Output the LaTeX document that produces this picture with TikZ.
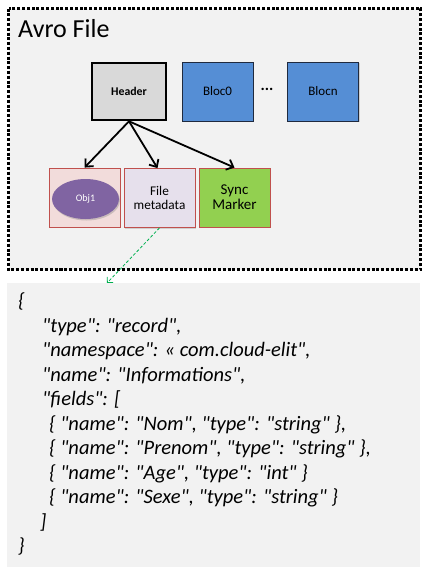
\documentclass[tikz,border=0pt]{standalone}
\usepackage{fontspec}
\setmainfont{Carlito}
\newfontfamily\jsonfont{Carlito}
\usetikzlibrary{arrows.meta,shadows,calc,shapes.geometric}
\definecolor{panel}{HTML}{F2F2F2}
\definecolor{hdrfill}{HTML}{D9D9D9}
\definecolor{blocfill}{HTML}{558ED5}
\definecolor{blocline}{HTML}{1F2A3F}
\definecolor{boxred}{HTML}{C0504D}
\definecolor{objfill}{HTML}{F2DCDB}
\definecolor{metafill}{HTML}{E6E0EC}
\definecolor{syncfill}{HTML}{92D050}
\definecolor{ellfill}{HTML}{8064A2}
\definecolor{arrgreen}{HTML}{00B050}
\tikzset{
  px/.style={x=1pt,y=-1pt},
  hdrbox/.style={draw=black,line width=2.6pt,fill=hdrfill,minimum width=74pt,minimum height=57pt,inner sep=0pt,font=\fontsize{11.8}{13}\selectfont\bfseries},
  blocbox/.style={draw=blocline,line width=0.8pt,fill=blocfill,minimum width=71pt,minimum height=59pt,inner sep=0pt,font=\fontsize{13}{14}\selectfont,drop shadow={shadow xshift=1pt,shadow yshift=-1pt,opacity=0.3}},
  subbox/.style={draw=boxred,line width=0.8pt,minimum width=71pt,minimum height=59pt,inner sep=0pt,align=center,drop shadow={shadow xshift=1pt,shadow yshift=-1pt,opacity=0.3}},
  objell/.style={ellipse,fill=ellfill,minimum width=67pt,minimum height=40pt,inner sep=0pt,text=white,font=\fontsize{10}{12}\selectfont,drop shadow={shadow xshift=1pt,shadow yshift=-1.5pt,opacity=0.35}},
  hdrarrow/.style={draw=black,line width=1.8pt,-{Straight Barb[length=6pt,width=11pt,line width=1.8pt]}},
  greenarrow/.style={draw=arrgreen,line width=0.8pt,dash pattern=on 3pt off 2pt,-{Straight Barb[length=4pt,width=8pt]}},
  outerbox/.style={draw=black,line width=3pt,dash pattern=on 3pt off 1.8pt,fill=panel},
  jsonbox/.style={fill=panel,minimum width=413pt,minimum height=284pt,inner sep=0pt},
  jsontext/.style={anchor=base west,align=left,inner sep=0pt,font=\jsonfont\fontsize{20.5}{24.5}\selectfont\itshape},
}
\begin{document}
\begin{tikzpicture}[px]
\useasboundingbox (0,0) rectangle (428,576);
\fill[white] (0,0) rectangle (428,576);
% outer Avro file box
\draw[outerbox] (8.5,8.5) rectangle (420.5,269.5);
\node[anchor=base west,inner sep=0pt,font=\fontsize{26}{28}\selectfont] (title) at (18,37) {Avro File};
% top row
\node[hdrbox] (hdr) at (129,91.5) {Header};
\node[blocbox] (b0) at (217.5,91.5) {Bloc0};
\node[font=\fontsize{16}{16}\selectfont\bfseries] (dots) at (267,89) {...};
\node[blocbox] (bn) at (323,91.5) {Blocn};
% lower row
\node[subbox,fill=objfill] (obj) at (84.5,197.5) {};
\node[objell] (ell) at (85.5,199) {Obj1};
\node[subbox,fill=metafill,font=\fontsize{13.3}{14}\selectfont] (meta) at (159.5,198) {File\\metadata};
\node[subbox,fill=syncfill,font=\fontsize{15}{15}\selectfont] (sync) at (234.5,197.5) {Sync\\Marker};
% arrows
\draw[hdrarrow] (hdr.south) -- (obj.north);
\draw[hdrarrow] (hdr.south) -- ($(meta.north)+(-2,0)$);
\draw[hdrarrow] (hdr.south) -- (sync.north);
% json box
\node[jsonbox] (json) at (213.5,425) {};
\coordinate (jtip) at (107,283);
\draw[greenarrow] (meta.south) -- (jtip);
\node[jsontext] (jl1) at (18,307.5) {\{};
\node[jsontext] (jl2) at (42,332) {"type": "record",};
\node[jsontext] (jl3) at (42,356.5) {"namespace": « com.cloud-elit",};
\node[jsontext] (jl4) at (42,381) {"name": "Informations",};
\node[jsontext] (jl5) at (42,405.5) {"fields": [};
\node[jsontext] (jl6) at (49,430) {\{ "name": "Nom", "type": "string" \},};
\node[jsontext] (jl7) at (49,454.5) {\{ "name": "Prenom", "type": "string" \},};
\node[jsontext] (jl8) at (49,479) {\{ "name": "Age", "type": "int" \}};
\node[jsontext] (jl9) at (49,503.5) {\{ "name": "Sexe", "type": "string" \}};
\node[jsontext] (jl10) at (40,528) {]};
\node[jsontext] (jl11) at (18,552.5) {\}};
\end{tikzpicture}
\end{document}
